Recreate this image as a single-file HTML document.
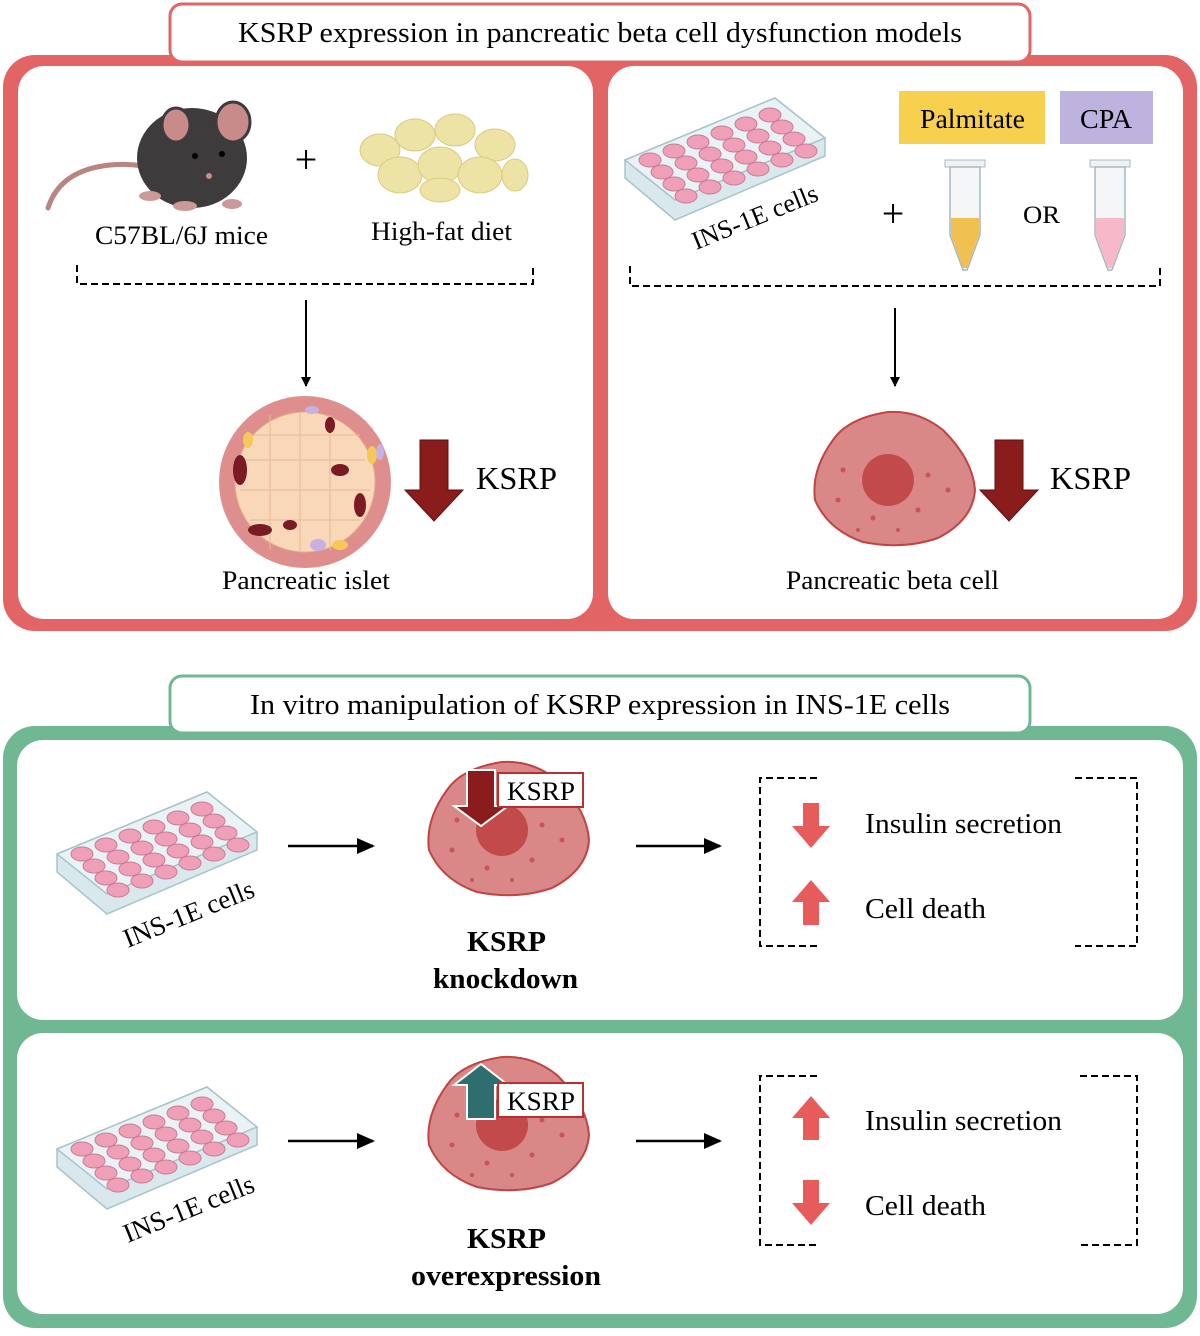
<!DOCTYPE html>
<html><head><meta charset="utf-8"><style>
html,body{margin:0;padding:0;background:#fff;}
svg, svg text{font-family:"Liberation Serif","Times New Roman",Times,serif;}
</style></head><body>
<svg width="1200" height="1331" viewBox="0 0 1200 1331" xmlns="http://www.w3.org/2000/svg" font-family="Liberation Serif, Times New Roman, serif">
<defs>
  <marker id="ah" markerWidth="10" markerHeight="10" refX="9" refY="5" orient="auto" markerUnits="userSpaceOnUse">
    <path d="M0,0 L10,5 L0,10 Z" fill="#000"/>
  </marker>
  <marker id="ah2" markerWidth="18" markerHeight="16" refX="16" refY="8" orient="auto" markerUnits="userSpaceOnUse">
    <path d="M0,0 L18,8 L0,16 Z" fill="#000"/>
  </marker>
  <g id="plate">
    <path d="M0,62 L150,0 L200,40 L200,58 L50,122 L0,80 Z" fill="#d8e8ec" stroke="#a9c3cc" stroke-width="1.5"/>
    <path d="M0,62 L150,0 L200,40 L50,102 Z" fill="#e9f3f5" stroke="#a9c3cc" stroke-width="1.5"/>
    <g fill="#ef9fb8" stroke="#c97c96" stroke-width="1">
      <ellipse cx="25" cy="62" rx="11" ry="7"/><ellipse cx="49" cy="53" rx="11" ry="7"/><ellipse cx="73" cy="44" rx="11" ry="7"/><ellipse cx="97" cy="35" rx="11" ry="7"/><ellipse cx="121" cy="26" rx="11" ry="7"/><ellipse cx="145" cy="17" rx="11" ry="7"/>
      <ellipse cx="37" cy="74" rx="11" ry="7"/><ellipse cx="61" cy="65" rx="11" ry="7"/><ellipse cx="85" cy="56" rx="11" ry="7"/><ellipse cx="109" cy="47" rx="11" ry="7"/><ellipse cx="133" cy="38" rx="11" ry="7"/><ellipse cx="157" cy="29" rx="11" ry="7"/>
      <ellipse cx="49" cy="86" rx="11" ry="7"/><ellipse cx="73" cy="77" rx="11" ry="7"/><ellipse cx="97" cy="68" rx="11" ry="7"/><ellipse cx="121" cy="59" rx="11" ry="7"/><ellipse cx="145" cy="50" rx="11" ry="7"/><ellipse cx="169" cy="41" rx="11" ry="7"/>
      <ellipse cx="61" cy="98" rx="11" ry="7"/><ellipse cx="85" cy="89" rx="11" ry="7"/><ellipse cx="109" cy="80" rx="11" ry="7"/><ellipse cx="133" cy="71" rx="11" ry="7"/><ellipse cx="157" cy="62" rx="11" ry="7"/><ellipse cx="181" cy="53" rx="11" ry="7"/>
    </g>
  </g>
  <g id="cell">
    <path d="M-60,-40 Q-45,-62 -5,-68 Q25,-70 50,-50 Q80,-20 82,10 Q80,40 45,58 Q10,70 -30,62 Q-65,50 -78,20 Q-82,-10 -60,-40 Z" fill="#d98787" stroke="#c14444" stroke-width="2"/>
    <circle cx="-5" cy="0" r="26" fill="#c24a4a"/>
    <g fill="#c65555"><circle cx="-50" cy="-10" r="2.5"/><circle cx="35" cy="-5" r="2.5"/><circle cx="-20" cy="38" r="2.5"/><circle cx="25" cy="30" r="2.5"/><circle cx="-55" cy="20" r="2.5"/><circle cx="55" cy="10" r="2.5"/><circle cx="-35" cy="50" r="2"/><circle cx="5" cy="50" r="2"/></g>
  </g>
</defs>

<!-- TOP SECTION -->
<rect x="3" y="55" width="1194" height="576" rx="32" fill="#e26464"/>
<rect x="170" y="4" width="860" height="58" rx="12" fill="#fff" stroke="#e26464" stroke-width="3"/>
<text x="238" y="42" font-size="28" textLength="724" lengthAdjust="spacingAndGlyphs">KSRP expression in pancreatic beta cell dysfunction models</text>
<rect x="18" y="66" width="575" height="553" rx="26" fill="#fff"/>
<rect x="608" y="66" width="575" height="553" rx="26" fill="#fff"/>

<!-- mouse -->
<path d="M48,208 Q60,170 110,165 Q135,163 150,168" fill="none" stroke="#b88580" stroke-width="5" stroke-linecap="round"/>
<ellipse cx="192" cy="158" rx="55" ry="50" fill="#3d3b3b"/>
<ellipse cx="176" cy="125" rx="14" ry="17" fill="#c98a8a" stroke="#3d3b3b" stroke-width="3"/>
<ellipse cx="233" cy="122" rx="17" ry="20" fill="#c98a8a" stroke="#3d3b3b" stroke-width="3"/>
<circle cx="195" cy="156" r="3" fill="#000"/><circle cx="222" cy="154" r="3" fill="#000"/>
<circle cx="209" cy="176" r="3" fill="#d08a8a"/>
<ellipse cx="150" cy="196" rx="11" ry="5" fill="#c99"/><ellipse cx="185" cy="206" rx="12" ry="5" fill="#c99"/><ellipse cx="232" cy="204" rx="10" ry="5" fill="#c99"/>
<text x="306" y="173" font-size="40" text-anchor="middle">+</text>
<!-- food -->
<g fill="#ece3a4" stroke="#d8cc80" stroke-width="1">
<ellipse cx="380" cy="150" rx="20" ry="16"/><ellipse cx="415" cy="135" rx="20" ry="16"/><ellipse cx="455" cy="130" rx="20" ry="16"/><ellipse cx="495" cy="145" rx="20" ry="16"/>
<ellipse cx="400" cy="175" rx="22" ry="18"/><ellipse cx="440" cy="165" rx="22" ry="18"/><ellipse cx="480" cy="175" rx="22" ry="18"/><ellipse cx="515" cy="175" rx="13" ry="16"/><ellipse cx="440" cy="190" rx="20" ry="12"/>
</g>
<text x="95" y="244" font-size="26" textLength="173" lengthAdjust="spacingAndGlyphs">C57BL/6J mice</text>
<text x="371" y="240" font-size="26" textLength="141" lengthAdjust="spacingAndGlyphs">High-fat diet</text>
<path d="M77,265 L77,284 L533,284 L533,265" fill="none" stroke="#000" stroke-width="2" stroke-dasharray="7,4"/>
<line x1="306" y1="300" x2="306" y2="386" stroke="#000" stroke-width="2" marker-end="url(#ah)"/>
<!-- islet -->
<circle cx="305" cy="482" r="86" fill="#df8e8e"/>
<circle cx="305" cy="482" r="70" fill="#f8d8b8" stroke="#e6b090" stroke-width="1"/>
<g fill="none" stroke="#e8b898" stroke-width="1">
<path d="M245,460 L365,460 M240,490 L370,490 M250,520 L360,520 M250,435 L360,435 M270,415 L270,550 M300,412 L300,552 M330,415 L330,550"/>
</g>
<g fill="#7a1a22"><ellipse cx="240" cy="470" rx="7" ry="15"/><ellipse cx="260" cy="530" rx="12" ry="6"/><ellipse cx="340" cy="470" rx="9" ry="6"/><ellipse cx="360" cy="505" rx="6" ry="12"/><ellipse cx="290" cy="525" rx="7" ry="5"/><ellipse cx="330" cy="425" rx="5" ry="8"/></g>
<g fill="#f6c85a"><ellipse cx="372" cy="455" rx="5" ry="9"/><ellipse cx="340" cy="545" rx="8" ry="5"/><ellipse cx="248" cy="440" rx="5" ry="8"/></g>
<g fill="#c8b0e0"><ellipse cx="318" cy="545" rx="8" ry="6"/><ellipse cx="380" cy="452" rx="4" ry="8"/><ellipse cx="312" cy="410" rx="7" ry="4"/></g>
<path d="M420,440 L448,440 L448,490 L463,490 L434,521 L405,490 L420,490 Z" fill="#8b1c1c" stroke="#5a0f0f" stroke-width="1"/>
<text x="476" y="489" font-size="32" textLength="81" lengthAdjust="spacingAndGlyphs">KSRP</text>
<text x="222" y="589" font-size="26" textLength="168" lengthAdjust="spacingAndGlyphs">Pancreatic islet</text>

<!-- right top -->
<use href="#plate" x="625" y="98"/>
<text x="758" y="225" font-size="26" text-anchor="middle" transform="rotate(-22 758 225)">INS-1E cells</text>
<text x="893" y="227" font-size="40" text-anchor="middle">+</text>
<rect x="899" y="91" width="146" height="53" fill="#f7d14d"/>
<text x="920" y="128" font-size="27" textLength="105" lengthAdjust="spacingAndGlyphs">Palmitate</text>
<rect x="1060" y="91" width="93" height="53" fill="#bdb3de"/>
<text x="1080" y="128" font-size="27" textLength="52" lengthAdjust="spacingAndGlyphs">CPA</text>
<g>
<rect x="945" y="160" width="40" height="7" fill="#eef2f4" stroke="#a9b8c0"/>
<path d="M950,167 L980,167 L980,235 L967,270 L963,270 L950,235 Z" fill="#f4f6f7" stroke="#a9b8c0" stroke-width="1.5"/>
<path d="M951,218 L979,218 L979,235 L967,268 L963,268 L951,235 Z" fill="#f0c050"/>
<rect x="1090" y="160" width="40" height="7" fill="#eef2f4" stroke="#a9b8c0"/>
<path d="M1095,167 L1125,167 L1125,235 L1112,270 L1108,270 L1095,235 Z" fill="#f4f6f7" stroke="#a9b8c0" stroke-width="1.5"/>
<path d="M1096,218 L1124,218 L1124,235 L1112,268 L1108,268 L1096,235 Z" fill="#f7b8c8"/>
</g>
<text x="1023" y="223" font-size="25" textLength="37" lengthAdjust="spacingAndGlyphs">OR</text>
<path d="M630,266 L630,286 L1160,286 L1160,266" fill="none" stroke="#000" stroke-width="2" stroke-dasharray="7,4"/>
<line x1="895" y1="308" x2="895" y2="386" stroke="#000" stroke-width="2" marker-end="url(#ah)"/>
<use href="#cell" x="893" y="480"/>
<path d="M995,440 L1023,440 L1023,490 L1038,490 L1009,521 L980,490 L995,490 Z" fill="#8b1c1c" stroke="#5a0f0f" stroke-width="1"/>
<text x="1050" y="489" font-size="32" textLength="81" lengthAdjust="spacingAndGlyphs">KSRP</text>
<text x="786" y="589" font-size="26" textLength="213" lengthAdjust="spacingAndGlyphs">Pancreatic beta cell</text>

<!-- BOTTOM SECTION -->
<rect x="3" y="726" width="1194" height="602" rx="32" fill="#70b893"/>
<rect x="170" y="676" width="860" height="57" rx="12" fill="#fff" stroke="#70b893" stroke-width="3"/>
<text x="250" y="714" font-size="28" textLength="700" lengthAdjust="spacingAndGlyphs">In vitro manipulation of KSRP expression in INS-1E cells</text>
<rect x="17" y="740" width="1166" height="280" rx="26" fill="#fff"/>
<rect x="17" y="1033" width="1166" height="281" rx="26" fill="#fff"/>

<!-- row 1 -->
<use href="#plate" x="57" y="792"/>
<text x="192" y="922" font-size="27" text-anchor="middle" transform="rotate(-22 192 922)">INS-1E cells</text>
<line x1="288" y1="846" x2="373" y2="846" stroke="#000" stroke-width="2.5" marker-end="url(#ah2)"/>
<use href="#cell" x="507" y="830"/>
<path d="M467,770 L495,770 L495,806 L508,806 L481,826 L454,806 L467,806 Z" fill="#8b1c1c" stroke="#fff" stroke-width="2"/>
<rect x="498" y="773" width="85" height="34" fill="#fff" stroke="#b83030" stroke-width="2"/>
<text x="507" y="800" font-size="26" textLength="68" lengthAdjust="spacingAndGlyphs">KSRP</text>
<text x="467" y="951" font-size="28" font-weight="bold" textLength="79" lengthAdjust="spacingAndGlyphs">KSRP</text>
<text x="433" y="988" font-size="28" font-weight="bold" textLength="145" lengthAdjust="spacingAndGlyphs">knockdown</text>
<line x1="636" y1="846" x2="720" y2="846" stroke="#000" stroke-width="2.5" marker-end="url(#ah2)"/>
<path d="M817,778 L760,778 L760,946 L817,946 M1075,778 L1137,778 L1137,946 L1075,946" fill="none" stroke="#000" stroke-width="2" stroke-dasharray="7,4"/>
<path d="M803,803 L819,803 L819,826 L830,826 L811,848 L792,826 L803,826 Z" fill="#e85b5b"/>
<path d="M803,925 L819,925 L819,902 L830,902 L811,880 L792,902 L803,902 Z" fill="#e85b5b"/>
<text x="865" y="833" font-size="28" textLength="197" lengthAdjust="spacingAndGlyphs">Insulin secretion</text>
<text x="865" y="918" font-size="28" textLength="121" lengthAdjust="spacingAndGlyphs">Cell death</text>

<!-- row 2 -->
<use href="#plate" x="57" y="1087"/>
<text x="192" y="1217" font-size="27" text-anchor="middle" transform="rotate(-22 192 1217)">INS-1E cells</text>
<line x1="288" y1="1141" x2="373" y2="1141" stroke="#000" stroke-width="2.5" marker-end="url(#ah2)"/>
<use href="#cell" x="507" y="1125"/>
<path d="M467,1119 L495,1119 L495,1085 L508,1085 L481,1064 L454,1085 L467,1085 Z" fill="#2f6e6e" stroke="#fff" stroke-width="2"/>
<rect x="498" y="1083" width="85" height="34" fill="#fff" stroke="#b83030" stroke-width="2"/>
<text x="507" y="1110" font-size="26" textLength="68" lengthAdjust="spacingAndGlyphs">KSRP</text>
<text x="467" y="1248" font-size="28" font-weight="bold" textLength="79" lengthAdjust="spacingAndGlyphs">KSRP</text>
<text x="411" y="1285" font-size="28" font-weight="bold" textLength="190" lengthAdjust="spacingAndGlyphs">overexpression</text>
<line x1="636" y1="1141" x2="720" y2="1141" stroke="#000" stroke-width="2.5" marker-end="url(#ah2)"/>
<path d="M817,1076 L760,1076 L760,1245 L817,1245 M1080,1076 L1137,1076 L1137,1245 L1080,1245" fill="none" stroke="#000" stroke-width="2" stroke-dasharray="7,4"/>
<path d="M803,1140 L819,1140 L819,1118 L830,1118 L811,1096 L792,1118 L803,1118 Z" fill="#e85b5b"/>
<path d="M803,1180 L819,1180 L819,1203 L830,1203 L811,1225 L792,1203 L803,1203 Z" fill="#e85b5b"/>
<text x="865" y="1130" font-size="28" textLength="197" lengthAdjust="spacingAndGlyphs">Insulin secretion</text>
<text x="865" y="1215" font-size="28" textLength="121" lengthAdjust="spacingAndGlyphs">Cell death</text>
</svg>
</body></html>
